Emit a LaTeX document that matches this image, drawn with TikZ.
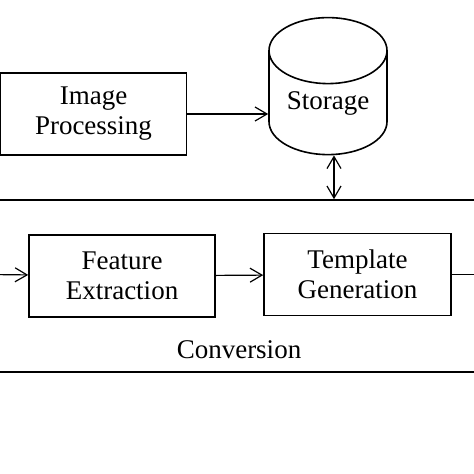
\documentclass[tikz,border=0pt]{standalone}
\usepackage{fontspec}
\setmainfont{Liberation Serif}
\usetikzlibrary{arrows.meta,shapes.geometric,calc}

\begin{document}
\begin{tikzpicture}[x=1pt,y=-1pt,
  >={Straight Barb[length=12pt,width=14pt]},
  txt/.style={font=\fontsize{27}{30}\selectfont},
  box/.style={txt,draw,line width=1.6pt,minimum width=186pt,minimum height=82pt,align=center,inner sep=0pt},
  db/.style={txt,draw,line width=1.6pt,cylinder,shape border rotate=90,aspect=0.8,minimum width=118pt,minimum height=137pt,inner sep=0pt},
  frame/.style={draw,line width=1.6pt,minimum width=520pt,minimum height=172pt,inner sep=0pt},
  link/.style={line width=1.2pt}]
\clip (0,0) rectangle (474,474);

\node[box] (imgproc) at (93.5,114) {Image\\Processing};
\node[db] (storage) at (328,103) {Storage};

\node[frame] (conv) at (237,286) {};
\node[box] (feat) at (122,276) {Feature\\Extraction};
\node[box,minimum width=187pt] (templ) at (357.5,274.5) {Template\\Generation};
\node[txt] (convlabel) at (239,350) {Conversion};

\coordinate (inL) at (-10,274.5);
\coordinate (outR) at (490,274.5);

\draw[link,->] (imgproc.east) -- (imgproc.east -| storage.west);
\draw[link,<->] ([xshift=6pt]storage.south) -- ([xshift=6pt]storage.south |- conv.north);
\draw[link,->] (inL) -- (feat);
\draw[link,->] (feat) -- (templ);
\draw[link] (templ) -- (outR);

\end{tikzpicture}
\end{document}
